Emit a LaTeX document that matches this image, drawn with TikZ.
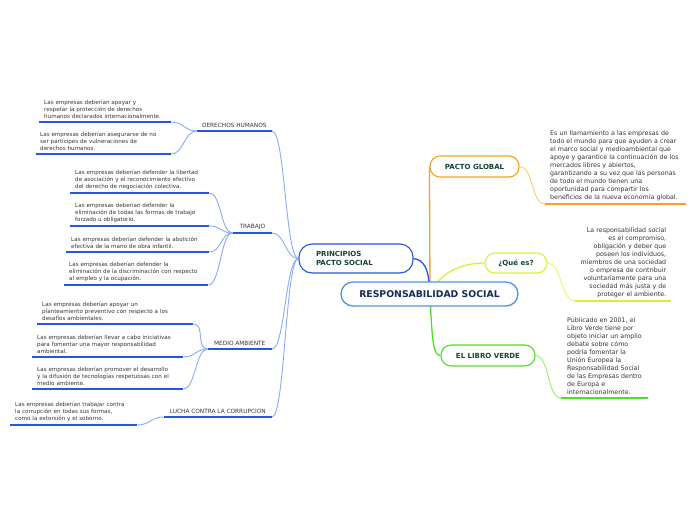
\documentclass[tikz,border=0pt]{standalone}
\usepackage{fontspec}
\setmainfont{DejaVu Sans}
\usepackage{xcolor}
\usepackage{tikz}
\usetikzlibrary{positioning, backgrounds}

\definecolor{azulfuerte}{HTML}{2456E6}
\definecolor{azulsuave}{HTML}{8AAAF6}
\definecolor{azulcentro}{HTML}{4E96DC}
\definecolor{tinta}{HTML}{17295A}
\definecolor{verdeosc}{HTML}{14452C}
\definecolor{naranja}{HTML}{F5A020}
\definecolor{naranjasuave}{HTML}{FFC871}
\definecolor{lima}{HTML}{DCEE38}
\definecolor{limasuave}{HTML}{E9F56E}
\definecolor{verdeclaro}{HTML}{4FDF26}
\definecolor{verdesuave}{HTML}{92EE72}
\definecolor{gristexto}{HTML}{333333}

\begin{document}
\begin{tikzpicture}[x=1pt, y=-1pt,
  central/.style={draw=azulcentro, line width=1.3pt, fill=white, rounded corners=12pt,
    minimum width=177pt, minimum height=24pt, text=tinta, font=\bfseries\fontsize{9.3}{11}\selectfont},
  rama/.style={line width=1.1pt, fill=white, rounded corners=10pt, minimum height=21pt,
    text=verdeosc, font=\bfseries\fontsize{7}{8.6}\selectfont},
  hoja/.style={anchor=south west, align=left, inner xsep=4pt, inner ysep=3pt,
    text=gristexto, font=\fontsize{5.6}{7}\selectfont},
  tema/.style={anchor=south east, inner xsep=4pt, inner ysep=3pt,
    text=gristexto, font=\fontsize{5.8}{7}\selectfont},
  texto/.style={anchor=south west, align=left, inner xsep=6pt, inner ysep=3pt,
    text=gristexto, font=\fontsize{6.3}{8}\selectfont},
  raya/.style={line width=1.8pt},
  curva/.style={line width=0.9pt}
]

% Marco
\useasboundingbox (0,0) rectangle (696,520);

% Nodo central y ramas
\node[central] (rs) at (429.5,294) {RESPONSABILIDAD SOCIAL};
\coordinate (eje) at (430,294);
\node[rama, draw=azulfuerte, align=left, text width=80pt, minimum width=114pt, minimum height=29pt, rounded corners=13pt]
  (princ) at (356,258.5) {PRINCIPIOS\\PACTO SOCIAL};
\node[rama, draw=naranja, minimum width=89pt] (pacto) at (474.5,166.5) {PACTO GLOBAL};
\node[rama, draw=lima, minimum width=62pt, minimum height=20pt] (que) at (516,263) {¿Qué es?};
\node[rama, draw=verdeclaro, minimum width=94pt] (verde) at (488,355.5) {EL LIBRO VERDE};

% Uniones del nodo central
\begin{scope}[on background layer]
  \draw[naranja, line width=1.3pt] (eje) -- (pacto.west);
  \draw[lima, line width=1.3pt] (eje) .. controls (440,272) and (462,263) .. (que.west);
  \draw[verdeclaro, line width=1.3pt] (eje) .. controls (432,345) and (434,355.5) .. (verde.west);
  \draw[azulfuerte, line width=1.3pt] (princ.east) .. controls (424,260) and (429,268) .. (eje);
\end{scope}

% Temas de los principios
\node[tema, minimum width=75pt] (dh) at (272,131) {DERECHOS HUMANOS};
\node[tema, minimum width=39pt] (tr) at (272,233) {TRABAJO};
\node[tema, minimum width=64pt] (ma) at (272,349) {MEDIO AMBIENTE};
\node[tema, minimum width=108pt] (lu) at (272,417) {LUCHA CONTRA LA CORRUPCION};

% Hojas
\node[hoja, inner xsep=5pt, text width=122pt] (dh1) at (39,122)
  {Las empresas deberían apoyar y\\respetar la protección de derechos\\humanos declarados internacionalmente.};
\node[hoja, text width=127pt] (dh2) at (36,154)
  {Las empresas deberían asegurarse de no\\ser partícipes de vulneraciones de\\derechos humanos.};
\node[hoja, inner xsep=5pt, text width=129pt] (tr1) at (70,193)
  {Las empresas deberían defender la libertad\\de asociación y el reconocimiento efectivo\\del derecho de negociación colectiva.};
\node[hoja, inner xsep=5pt, text width=129pt] (tr2) at (70,226)
  {Las empresas deberían defender la\\eliminación de todas las formas de trabajo\\forzado u obligatorio.};
\node[hoja, inner xsep=5pt, text width=133pt] (tr3) at (66,252)
  {Las empresas deberían defender la abolición\\efectiva de la mano de obra infantil.};
\node[hoja, inner xsep=5pt, text width=134pt] (tr4) at (64,285)
  {Las empresas deberían defender la\\eliminación de la discriminación con respecto\\al empleo y la ocupación.};
\node[hoja, inner xsep=5pt, text width=146pt] (ma1) at (37,324)
  {Las empresas deberían apoyar un\\planteamiento preventivo con respecto a los\\desafíos ambientales.};
\node[hoja, inner xsep=5pt, text width=141pt] (ma2) at (32,357)
  {Las empresas deberían llevar a cabo iniciativas\\para fomentar una mayor responsabilidad\\ambiental.};
\node[hoja, inner xsep=5pt, text width=141pt] (ma3) at (32,389)
  {Las empresas deberían promover el desarrollo\\y la difusión de tecnologías respetuosas con el\\medio ambiente.};
\node[hoja, inner xsep=5pt, text width=117pt] (lu1) at (10,425)
  {Las empresas deberían trabajar contra\\la corrupción en todas sus formas,\\como la extorsión y el soborno.};

% Subrayados azules
\foreach \n in {dh,tr,ma,lu,dh1,dh2,tr1,tr2,tr3,tr4,ma1,ma2,ma3,lu1}
  \draw[azulfuerte, raya] (\n.south west) -- (\n.south east);

% Curvas hoja -> tema
\foreach \h/\t in {dh1/dh,dh2/dh,tr1/tr,tr2/tr,tr3/tr,tr4/tr,ma1/ma,ma2/ma,ma3/ma,lu1/lu}
  \draw[azulsuave, curva] (\h.south east) .. controls +(12,0) and +(-12,0) .. (\t.south west);

% Curvas tema -> principios
\foreach \t in {dh,tr,ma,lu}
  \draw[azulsuave, curva] (\t.south east) .. controls +(13,0) and +(-13,0) .. (princ.west);

% Textos de la derecha
\node[texto, inner xsep=5pt, text width=131pt] (pactotxt) at (545,204)
  {Es un llamamiento a las empresas de\\todo el mundo para que ayuden a crear\\el marco social y medioambiental que\\apoye y garantice la continuación de los\\mercados libres y abiertos,\\garantizando a su vez que las personas\\de todo el mundo tienen una\\oportunidad para compartir los\\beneficios de la nueva economía global.};
\node[texto, align=right, inner xsep=5pt, text width=86pt] (quetxt) at (575,301)
  {La responsabilidad social\\es el compromiso,\\obligación y deber que\\poseen los individuos,\\miembros de una sociedad\\o empresa de contribuir\\voluntariamente para una\\sociedad más justa y de\\proteger el ambiente.};
\node[texto, text width=75pt] (verdetxt) at (561,398)
  {Publicado en 2001, el\\Libro Verde tiene por\\objeto iniciar un amplio\\debate sobre cómo\\podría fomentar la\\Unión Europea la\\Responsabilidad Social\\de las Empresas dentro\\de Europa e\\internacionalmente.};

\draw[naranja, raya] (pactotxt.south west) -- (pactotxt.south east);
\draw[lima, raya] (quetxt.south west) -- (quetxt.south east);
\draw[verdeclaro, raya] (verdetxt.south west) -- (verdetxt.south east);

\draw[naranjasuave, curva] (pacto.east) .. controls +(14,0) and +(-14,0) .. (pactotxt.south west);
\draw[limasuave, curva] (que.east) .. controls +(14,0) and +(-14,0) .. (quetxt.south west);
\draw[verdesuave, curva] (verde.east) .. controls +(14,0) and +(-14,0) .. (verdetxt.south west);

\end{tikzpicture}
\end{document}
